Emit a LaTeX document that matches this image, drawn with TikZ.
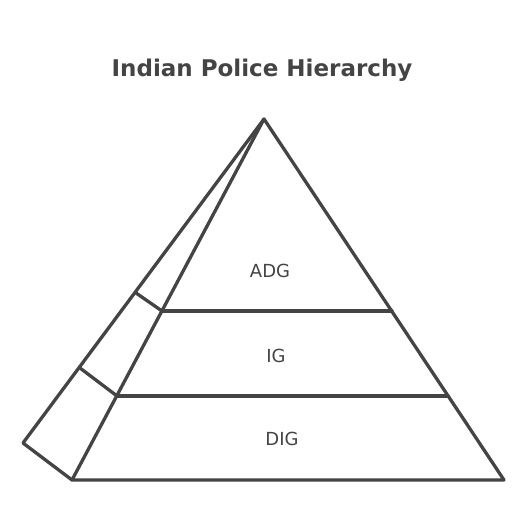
\documentclass[tikz,border=0pt]{standalone}
\usepackage{fontspec}
\setmainfont{DejaVu Sans}
\definecolor{ink}{HTML}{444444}
\begin{document}
\begin{tikzpicture}[x=1pt,y=-1pt,
  edge/.style={draw=ink,line width=3.3pt,line join=round,line cap=round},
  lvl/.style={text=ink,font=\fontsize{18}{21}\selectfont},
  ttl/.style={text=ink,font=\fontsize{23}{27}\selectfont\bfseries}]
\useasboundingbox (0,0) rectangle (528,528);
\coordinate (apex) at (264,119);
\coordinate (bl) at (72,480);
\coordinate (br) at (504,480);
\coordinate (back) at (23,443);
\coordinate (f1) at (162,311);
\coordinate (f2) at (117,396);
\coordinate (r1) at (392,311);
\coordinate (r2) at (448,396);
\coordinate (b1) at (136,293);
\coordinate (b2) at (80,368);
% front face
\draw[edge] (apex) -- (br) -- (bl) -- cycle;
% side face
\draw[edge] (apex) -- (back) -- (bl);
% level lines
\draw[edge] (f1) -- (r1);
\draw[edge] (f2) -- (r2);
\draw[edge] (b1) -- (f1);
\draw[edge] (b2) -- (f2);
% labels
\node[ttl] (title) at (262,70) {Indian Police Hierarchy};
\node[lvl] (adg) at (270,271) {ADG};
\node[lvl] (ig) at (276,356) {IG};
\node[lvl] (dig) at (282,439) {DIG};
\end{tikzpicture}
\end{document}
